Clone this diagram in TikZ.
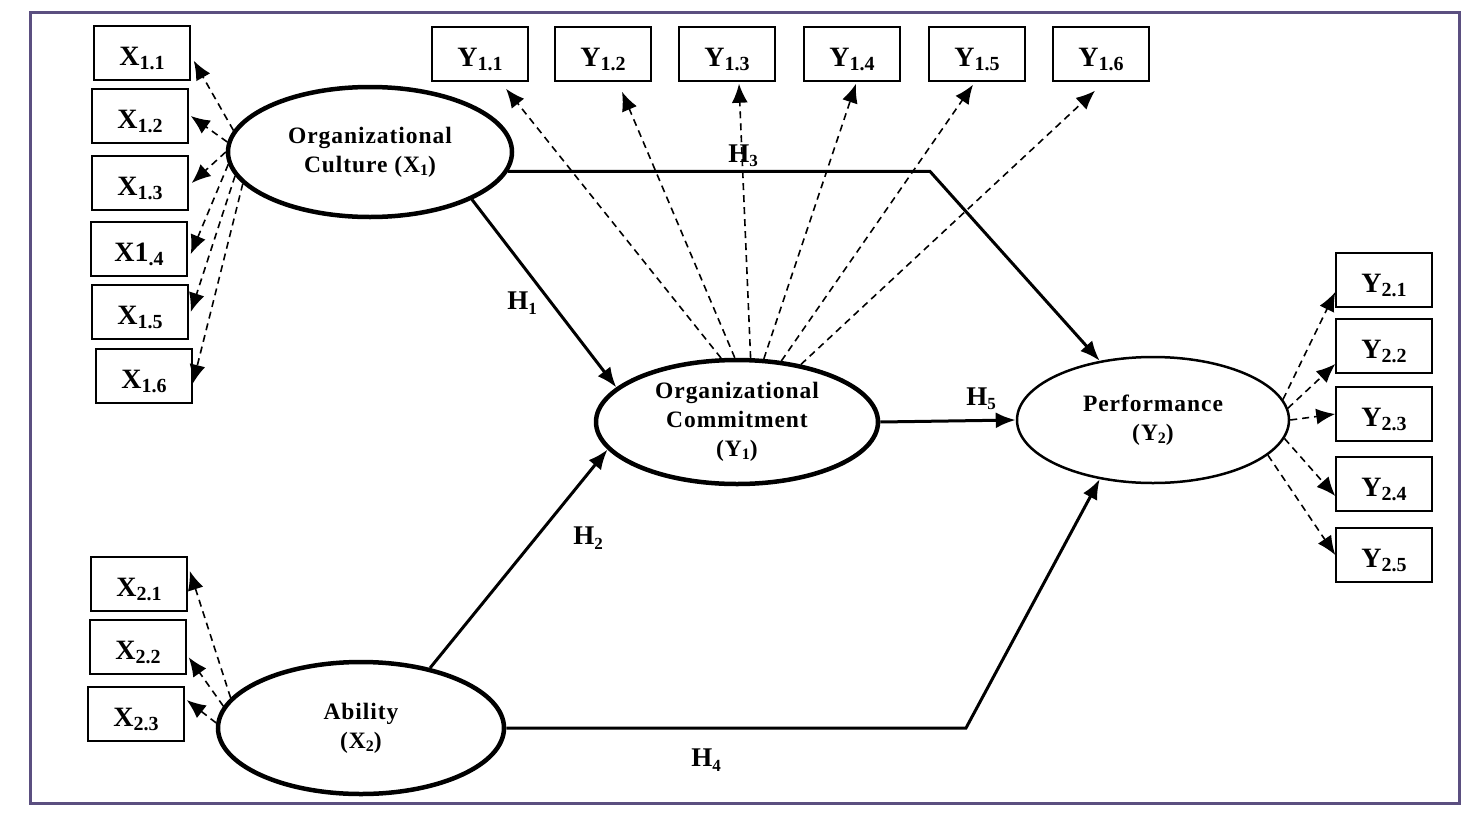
\documentclass[tikz,border=0pt]{standalone}
\usepackage{fontspec}
\setmainfont{Liberation Serif}
\newfontfamily\spacedfont[LetterSpace=4]{Liberation Serif}
\usetikzlibrary{shapes.geometric,arrows.meta}
\definecolor{framecol}{HTML}{5B4F80}
\newcommand{\bsub}[1]{\raisebox{-0.35ex}{\fontsize{20}{20}\selectfont #1}}
\newcommand{\esub}[1]{\raisebox{-0.3ex}{\fontsize{16}{16}\selectfont #1}}
\newcommand{\hsub}[1]{\raisebox{-0.35ex}{\fontsize{17}{17}\selectfont #1}}
\tikzset{
  ind/.style={shape=rectangle,draw=black,line width=1.5pt,minimum width=96pt,
    minimum height=54pt,inner sep=0pt,text height=30pt,text depth=6pt,
    font=\bfseries\fontsize{28}{28}\selectfont},
  lat/.style={shape=ellipse,draw=black,line width=4.5pt,inner sep=0pt,align=center,
    font=\spacedfont\bfseries\fontsize{23.5}{29}\selectfont},
  load/.style={-{Latex[length=19pt,width=16pt]},line width=1.6pt,dash pattern=on 7pt off 5pt},
  hyp/.style={-{Latex[length=20pt,width=16pt]},line width=3pt},
  hlab/.style={font=\bfseries\fontsize{27}{27}\selectfont}
}
\begin{document}
\begin{tikzpicture}[x=1pt,y=-1pt]
        \useasboundingbox (0,0) rectangle (1477,819);
        \draw[framecol,line width=3pt] (30,12) rectangle (1459,803);

        % latent variables
        \node[lat,minimum width=284pt,minimum height=130pt] (oc) at (370,152) {Organizational\\Culture (X\esub{1})};
        \node[lat,minimum width=282pt,minimum height=124pt] (cm) at (737,422) {Organizational\\Commitment\\(Y\esub{1})};
        \node[lat,line width=2.5pt,minimum width=272pt,minimum height=126pt] (pf) at (1153,420) {Performance\\(Y\esub{2})};
        \node[lat,minimum width=286pt,minimum height=132pt] (ab) at (361,728) {Ability\\(X\esub{2})};

        % indicators
        \node[ind] (x11) at (142,53) {X\bsub{1.1}};
        \node[ind] (x12) at (140,116) {X\bsub{1.2}};
        \node[ind] (x13) at (140,183) {X\bsub{1.3}};
        \node[ind] (x14) at (139,249) {X1\bsub{.4}};
        \node[ind] (x15) at (140,312) {X\bsub{1.5}};
        \node[ind] (x16) at (144,376) {X\bsub{1.6}};

        \node[ind] (x21) at (139,584) {X\bsub{2.1}};
        \node[ind] (x22) at (138,647) {X\bsub{2.2}};
        \node[ind] (x23) at (136,714) {X\bsub{2.3}};

        \node[ind] (y11) at (480,54) {Y\bsub{1.1}};
        \node[ind] (y12) at (603,54) {Y\bsub{1.2}};
        \node[ind] (y13) at (727,54) {Y\bsub{1.3}};
        \node[ind] (y14) at (852,54) {Y\bsub{1.4}};
        \node[ind] (y15) at (977,54) {Y\bsub{1.5}};
        \node[ind] (y16) at (1101,54) {Y\bsub{1.6}};

        \node[ind] (y21) at (1384,280) {Y\bsub{2.1}};
        \node[ind] (y22) at (1384,346) {Y\bsub{2.2}};
        \node[ind] (y23) at (1384,414) {Y\bsub{2.3}};
        \node[ind] (y24) at (1384,484) {Y\bsub{2.4}};
        \node[ind] (y25) at (1384,555) {Y\bsub{2.5}};

        % loadings
        \path [load] (oc.171) edge ([xshift=3pt]x11.-9) ;
        \path [load] (oc.176) edge ([xshift=2pt]x12.east);
        \path [load] (oc.180) edge ([xshift=3pt]x13.east);
        \path [load] (oc.185) edge ([xshift=3pt]x14.-6);
        \path [load] (oc.190) edge ([xshift=2pt]x15.east);
        \path [load] (oc.194) edge ([xshift=0pt]x16.-9);

        \path [load] (ab.167) edge ([xshift=2pt]x21.15);
        \path [load] (ab.171) edge ([xshift=2pt]x22.-12);
        \path [load] (ab.178) edge ([xshift=2pt]x23.16);

        \path [load] (cm.104) edge ([xshift=26pt,yshift=-7pt]y11.south);
        \path [load] (cm.92) edge ([xshift=19pt,yshift=-10pt]y12.south);
        \path [load] (cm.78) edge ([xshift=12pt,yshift=-2pt]y13.south);
        \path [load] (cm.67) edge ([xshift=4pt,yshift=-2pt]y14.south);
        \path [load] (cm.54) edge ([xshift=-4pt,yshift=-3pt]y15.south);
        \path [load] (cm.42) edge ([xshift=-6pt,yshift=-9pt]y16.south);

        \path [load] (pf.9) edge ([yshift=-12pt]y21.west);
        \path [load] (pf.5) edge ([yshift=-18pt]y22.west);
        \path [load] (pf.0) edge (y23.west);
        \path [load] (pf.-8) edge ([yshift=-12pt]y24.west);
        \path [load] (pf.-17) edge (y25.west);

        % hypotheses
        \coordinate (h3bend) at (930,171);
        \coordinate (h4bend) at (966,728);
        \path [hyp] (oc.-25) edge (cm.164);
        \path [hyp] (ab.41) edge (cm.192);
        \path [hyp] (cm.east) edge (pf.west);
        \draw [hyp] (oc.-8) -- (oc.-8 -| h3bend) -- (pf.132);
        \draw [hyp] (ab.east) -- (ab.east -| h4bend) -- (pf.228);

        \node[hlab] (h1) at (522,303) {H\hsub{1}};
        \node[hlab] (h2) at (588,538) {H\hsub{2}};
        \node[hlab] (h3) at (743,156) {H\hsub{3}};
        \node[hlab] (h4) at (706,760) {H\hsub{4}};
        \node[hlab] (h5) at (981,399) {H\hsub{5}};
\end{tikzpicture}
\end{document}
